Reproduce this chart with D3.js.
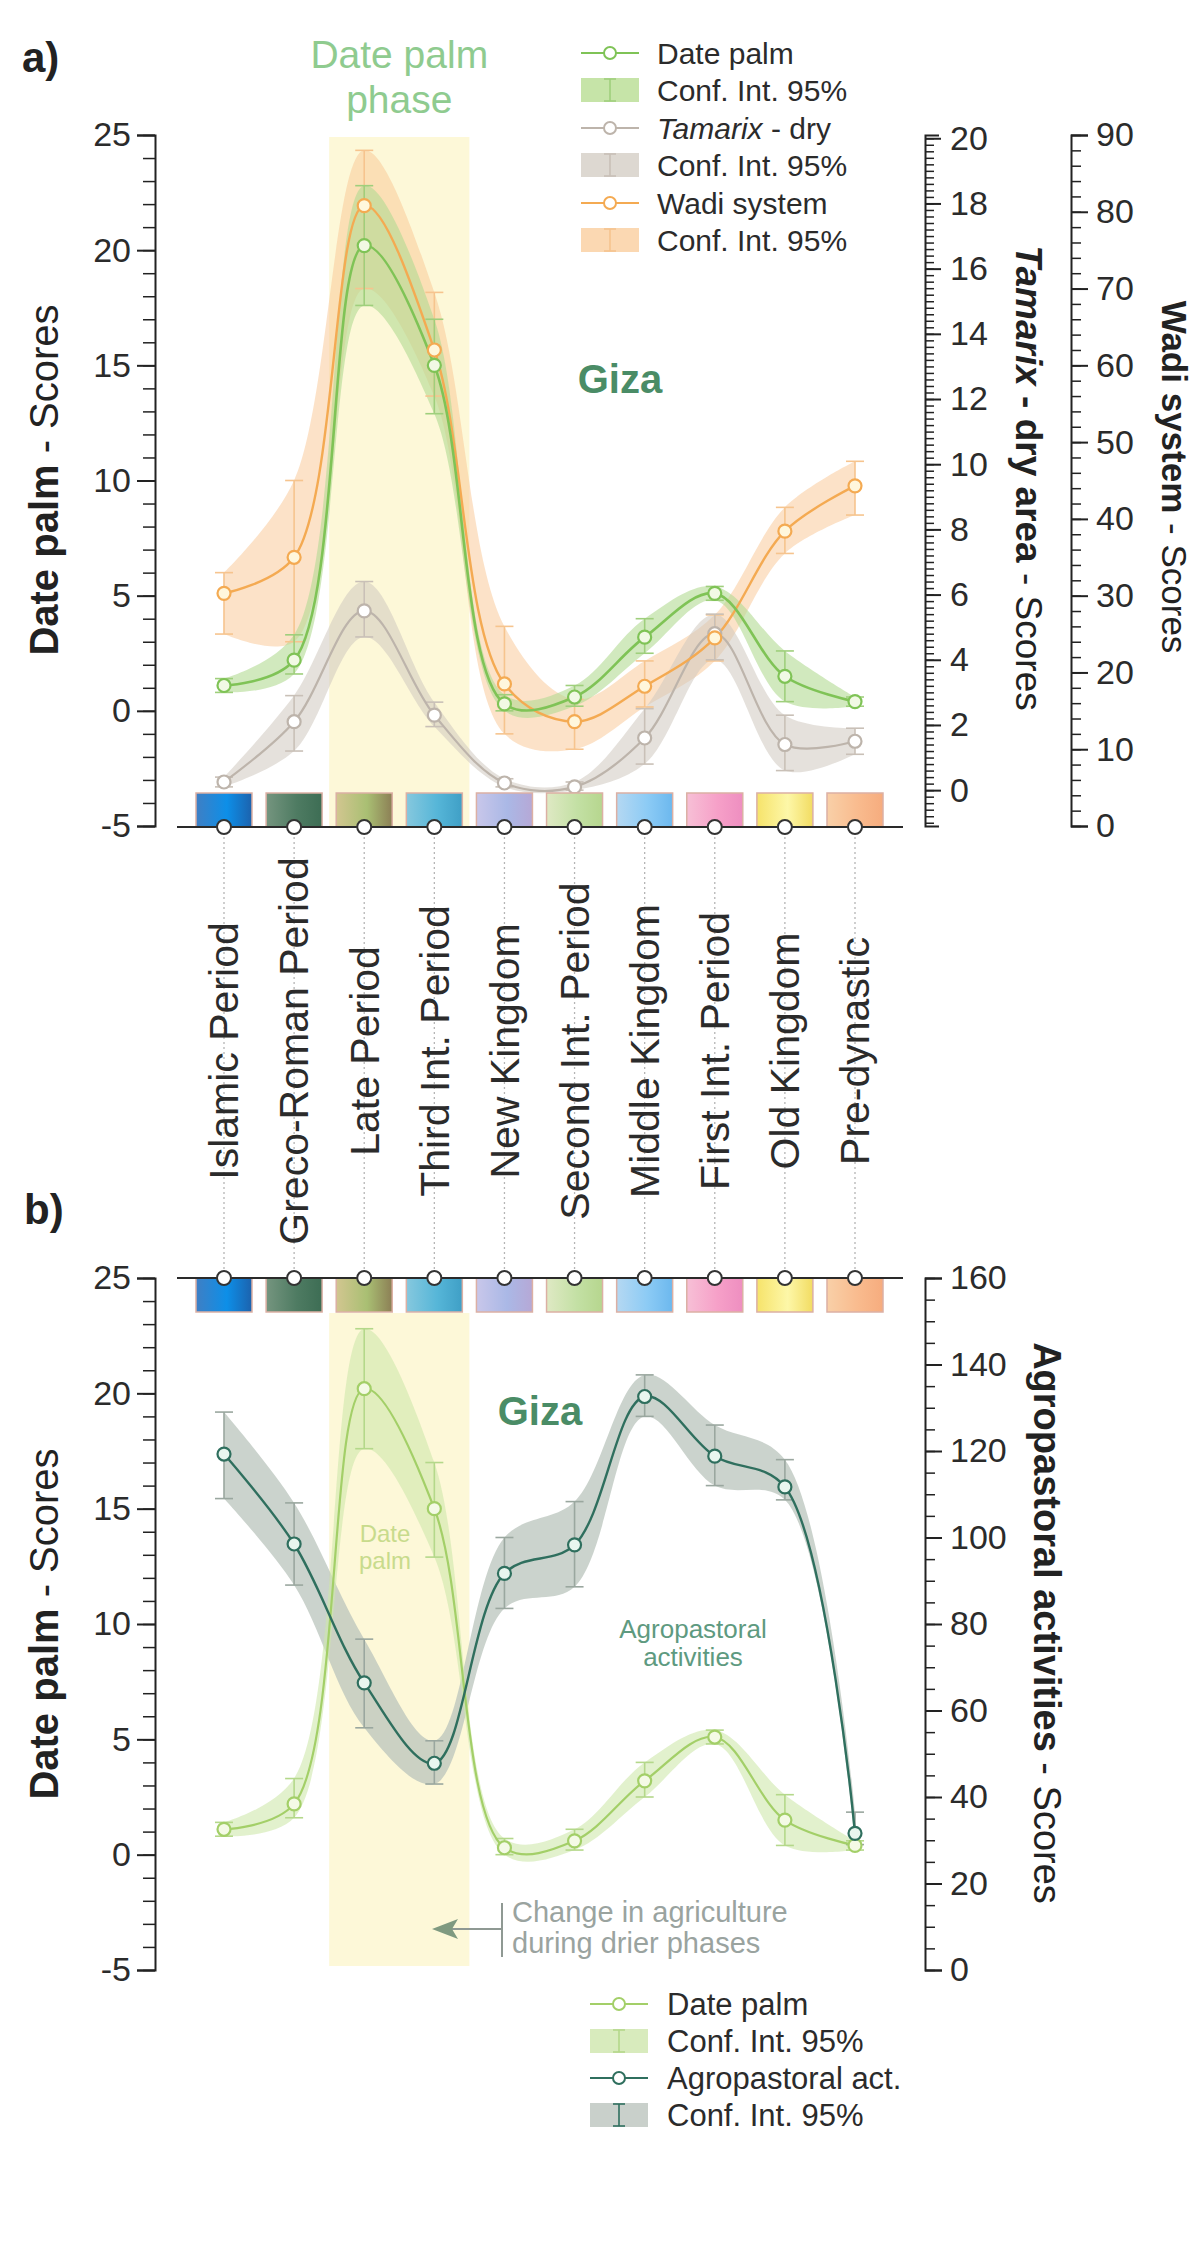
<!doctype html>
<html lang="en">
<head>
<meta charset="utf-8">
<title>Giza - date palm, Tamarix, wadi system, agropastoral activities</title>
<style>
  body { margin: 0; background: #fff; }
  svg { display: block; font-family: "Liberation Sans", Arial, sans-serif; }
</style>
</head>
<body>
<div id="chart"></div>
<script src="https://cdn.jsdelivr.net/npm/d3@7"></script>
<script>
// periods, youngest to oldest
var periods = ["Islamic Period", "Greco-Roman Period", "Late Period", "Third Int. Period",
  "New Kingdom", "Second Int. Period", "Middle Kingdom", "First Int. Period",
  "Old Kingdom", "Pre-dynastic"];

// date palm scores (left axis, both panels)
var datePalm   = [1.1, 2.2, 20.2, 15.0, 0.3, 0.6, 3.2, 5.1, 1.5, 0.4];
var datePalmLo = [0.8, 1.6, 17.6, 12.9, 0.0, 0.2, 2.5, 4.8, 0.4, 0.2];
var datePalmHi = [1.4, 3.3, 22.8, 17.0, 0.7, 1.1, 4.0, 5.4, 2.6, 0.6];

// Tamarix - dry area scores
var tamarix   = [0.25, 2.1, 5.5, 2.3, 0.22, 0.1, 1.6, 4.8, 1.4, 1.5];
var tamarixLo = [0.1, 1.2, 4.7, 1.95, 0.1, 0.0, 0.8, 4.0, 0.6, 1.1];
var tamarixHi = [0.4, 2.9, 6.4, 2.7, 0.35, 0.25, 2.5, 5.4, 2.3, 1.9];

// Wadi system scores
var wadi   = [30.3, 35.0, 80.8, 62.0, 18.5, 13.6, 18.2, 24.5, 38.4, 44.3];
var wadiLo = [25.0, 24.0, 70.0, 56.0, 12.0, 10.0, 15.5, 21.5, 35.5, 40.5];
var wadiHi = [33.0, 45.0, 88.0, 69.5, 26.0, 16.5, 21.5, 27.5, 41.5, 47.5];

// Agropastoral activities scores (panel b, right axis)
var agro   = [119.3, 98.5, 66.4, 47.8, 91.7, 98.3, 132.6, 118.8, 111.7, 31.6];
var agroLo = [109, 89, 56, 43, 83.6, 88.6, 128, 112, 108.7, 29];
var agroHi = [129, 108, 76.5, 53, 100, 108.3, 137.6, 126, 118, 36.5];

// tick values
var leftTicks = [-5, 0, 5, 10, 15, 20, 25];
var tamTicks = [0, 2, 4, 6, 8, 10, 12, 14, 16, 18, 20];
var wadiTicks = [0, 10, 20, 30, 40, 50, 60, 70, 80, 90];
var agroTicks = [0, 20, 40, 60, 80, 100, 120, 140, 160];

// colour of each period box (left, middle, right)
var boxColors = [
  ["#3f7fc4", "#0d8fe8", "#1c62ad"],
  ["#75957f", "#4e7b62", "#3d6d54"],
  ["#d2c690", "#a9bf73", "#8c7f55"],
  ["#86c8de", "#56b6d8", "#3f9fc6"],
  ["#c9c7ea", "#aab8e6", "#b6a8d6"],
  ["#dfe9c4", "#c3e0a4", "#b6d68e"],
  ["#b5d8f2", "#8ccbf5", "#6cb8ee"],
  ["#f7c0d6", "#f6a0c8", "#ee8ec0"],
  ["#f6e36a", "#fdf7a8", "#f2dc62"],
  ["#f9d0a8", "#f9bb8e", "#f6ac7e"]
];

(function() {
  var width = 1196, height = 2252;

  var svg = d3.select("#chart").append("svg")
      .attr("width", width)
      .attr("height", height);
  var defs = svg.append("defs");

  boxColors.forEach(function(c, i) {
    var g = defs.append("linearGradient").attr("id", "box" + i)
        .attr("x1", 0).attr("x2", 1).attr("y1", 0).attr("y2", 0);
    g.append("stop").attr("offset", "0%").attr("stop-color", c[0]);
    g.append("stop").attr("offset", "55%").attr("stop-color", c[1]);
    g.append("stop").attr("offset", "100%").attr("stop-color", c[2]);
  });

  var x = d3.scalePoint().domain(periods).range([224, 855]);

  // panel a scales
  var yA = d3.scaleLinear().domain([-5, 25]).range([826, 135]);
  var yTam = d3.scaleLinear().domain([-1.1, 20.1]).range([826, 135]);
  var yWadi = d3.scaleLinear().domain([0, 90]).range([826, 135]);
  // panel b scales
  var yB = d3.scaleLinear().domain([-5, 25]).range([1970, 1278]);
  var yAgro = d3.scaleLinear().domain([0, 160]).range([1970, 1278]);

  var axisA = 827, axisB = 1278;

  // date palm phase
  var phaseX0 = (x(periods[1]) + x(periods[2])) / 2;
  var phaseX1 = (x(periods[3]) + x(periods[4])) / 2;
  svg.append("rect").attr("x", phaseX0).attr("y", 137)
      .attr("width", phaseX1 - phaseX0).attr("height", axisA - 137)
      .attr("fill", "#fdf8d8");
  svg.append("rect").attr("x", phaseX0).attr("y", 1313)
      .attr("width", phaseX1 - phaseX0).attr("height", 1966 - 1313)
      .attr("fill", "#fdf8d8");

  svg.append("text").attr("x", (phaseX0 + phaseX1) / 2).attr("text-anchor", "middle")
      .attr("font-size", 39).attr("fill", "#8fcb8f")
      .selectAll("tspan").data(["Date palm", "phase"]).enter().append("tspan")
      .attr("x", (phaseX0 + phaseX1) / 2)
      .attr("y", function(d, i) { return 68 + i * 45; })
      .text(function(d) { return d; });

  // helpers
  function band(lo, hi, yScale, color, opacity) {
    var area = d3.area()
        .x(function(d, i) { return x(periods[i]); })
        .y0(function(d, i) { return yScale(lo[i]); })
        .y1(function(d, i) { return yScale(hi[i]); })
        .curve(d3.curveCatmullRom.alpha(0.5));
    svg.append("path").datum(lo).attr("d", area)
        .attr("fill", color).attr("fill-opacity", opacity);
  }

  function errorBars(lo, hi, yScale, color) {
    var g = svg.append("g").attr("stroke", color).attr("stroke-width", 1.6).attr("fill", "none");
    periods.forEach(function(p, i) {
      var cx = x(p), y0 = yScale(lo[i]), y1 = yScale(hi[i]);
      g.append("line").attr("x1", cx).attr("x2", cx).attr("y1", y0).attr("y2", y1);
      g.append("line").attr("x1", cx - 9).attr("x2", cx + 9).attr("y1", y0).attr("y2", y0);
      g.append("line").attr("x1", cx - 9).attr("x2", cx + 9).attr("y1", y1).attr("y2", y1);
    });
  }

  function series(values, yScale, color, fill, lw) {
    var line = d3.line()
        .x(function(d, i) { return x(periods[i]); })
        .y(function(d) { return yScale(d); })
        .curve(d3.curveCatmullRom.alpha(0.5));
    svg.append("path").datum(values).attr("d", line)
        .attr("fill", "none").attr("stroke", color).attr("stroke-width", lw);
    return function() {
      svg.append("g").selectAll("circle").data(values).enter().append("circle")
          .attr("cx", function(d, i) { return x(periods[i]); })
          .attr("cy", function(d) { return yScale(d); })
          .attr("r", 6.5)
          .attr("fill", fill).attr("stroke", color).attr("stroke-width", 2.2);
    };
  }

  // ----- panel a -----
  band(wadiLo, wadiHi, yWadi, "#f9c592", 0.5);
  band(tamarixLo, tamarixHi, yTam, "#cfc8bf", 0.55);
  band(datePalmLo, datePalmHi, yA, "#b3db92", 0.6);
  errorBars(wadiLo, wadiHi, yWadi, "#f6c48e");
  errorBars(tamarixLo, tamarixHi, yTam, "#c9c0b7");
  errorBars(datePalmLo, datePalmHi, yA, "#9fcf7c");
  var mTam = series(tamarix, yTam, "#bdb4ab", "#ffffff", 2.2);
  var mWadi = series(wadi, yWadi, "#f4aa52", "#fff7dc", 2.4);
  var mPalm = series(datePalm, yA, "#7fc356", "#f1f9e4", 2.6);
  mTam(); mWadi(); mPalm();

  // ----- panel b -----
  band(agroLo, agroHi, yAgro, "#b9c4bc", 0.75);
  band(datePalmLo, datePalmHi, yB, "#cfe7ac", 0.6);
  errorBars(agroLo, agroHi, yAgro, "#9aa79f");
  errorBars(datePalmLo, datePalmHi, yB, "#b4d88a");
  var mPalmB = series(datePalm, yB, "#a3cf68", "#f4fae6", 2.2);
  var mAgro = series(agro, yAgro, "#2f6f5e", "#e9f6ef", 2.4);
  mPalmB(); mAgro();

  // ----- period boxes, x axes and connectors -----
  var boxW = 56, boxH = 34;
  periods.forEach(function(p, i) {
    svg.append("line").attr("x1", x(p)).attr("x2", x(p))
        .attr("y1", axisA).attr("y2", axisB)
        .attr("stroke", "#b5b5b5").attr("stroke-width", 1.3).attr("stroke-dasharray", "2,3");
    [axisA - boxH, axisB].forEach(function(by) {
      svg.append("rect").attr("x", x(p) - boxW / 2).attr("y", by)
          .attr("width", boxW).attr("height", boxH)
          .attr("fill", "url(#box" + i + ")")
          .attr("stroke", "#dcb0a4").attr("stroke-width", 1.5);
    });
  });

  [axisA, axisB].forEach(function(ay) {
    svg.append("line").attr("x1", 177).attr("x2", 903).attr("y1", ay).attr("y2", ay)
        .attr("stroke", "#2a2a2a").attr("stroke-width", 2.2);
    svg.append("g").selectAll("circle").data(periods).enter().append("circle")
        .attr("cx", function(d) { return x(d); }).attr("cy", ay).attr("r", 7)
        .attr("fill", "#fff").attr("stroke", "#333").attr("stroke-width", 2);
  });

  svg.append("g").selectAll("text").data(periods).enter().append("text")
      .attr("transform", function(d) { return "translate(" + x(d) + ",1051) rotate(-90)"; })
      .attr("text-anchor", "middle").attr("dy", "0.35em")
      .attr("font-size", 41).attr("fill", "#2b2b2b")
      .text(function(d) { return d; });

  // ----- axes -----
  var plain = function(d) { return String(d); };

  function styleAxis(g, fs) {
    g.attr("font-size", fs).attr("font-family", "Liberation Sans, Arial, sans-serif");
    g.selectAll("path, line").attr("stroke", "#222").attr("stroke-width", 2);
    g.selectAll("text").attr("fill", "#2b2b2b");
  }

  function minorAxis(axisFn, scale, step, size, tx) {
    var d = scale.domain();
    var vals = d3.range(Math.ceil(d[0] / step) * step, d[1] + 1e-9, step);
    var g = svg.append("g").attr("transform", "translate(" + tx + ",0)")
        .call(axisFn(scale).tickValues(vals).tickSize(size).tickFormat(""));
    g.select(".domain").remove();
    g.selectAll("line").attr("stroke", "#222").attr("stroke-width", 1.5);
  }

  [yA, yB].forEach(function(ys) {
    minorAxis(d3.axisLeft, ys, 1, 12, 155);
    var g = svg.append("g").attr("transform", "translate(155,0)")
        .call(d3.axisLeft(ys).tickValues(leftTicks).tickFormat(plain)
          .tickSize(18).tickSizeOuter(18).tickPadding(6));
    styleAxis(g, 34);
  });

  minorAxis(d3.axisRight, yTam, 0.2, 9, 925);
  var gTam = svg.append("g").attr("transform", "translate(925,0)")
      .call(d3.axisRight(yTam).tickValues(tamTicks).tickFormat(plain)
        .tickSize(16).tickSizeOuter(14).tickPadding(9));
  styleAxis(gTam, 34);

  minorAxis(d3.axisRight, yWadi, 2, 10, 1071);
  var gWadi = svg.append("g").attr("transform", "translate(1071,0)")
      .call(d3.axisRight(yWadi).tickValues(wadiTicks).tickFormat(plain)
        .tickSize(17).tickSizeOuter(17).tickPadding(8));
  styleAxis(gWadi, 34);

  minorAxis(d3.axisRight, yAgro, 5, 10, 925);
  var gAgro = svg.append("g").attr("transform", "translate(925,0)")
      .call(d3.axisRight(yAgro).tickValues(agroTicks).tickFormat(plain)
        .tickSize(17).tickSizeOuter(17).tickPadding(8));
  styleAxis(gAgro, 34);

  // axis titles
  function title(tx, ty, rot, parts, fs) {
    var t = svg.append("text")
        .attr("transform", "translate(" + tx + "," + ty + ") rotate(" + rot + ")")
        .attr("text-anchor", "middle").attr("font-size", fs).attr("fill", "#222");
    parts.forEach(function(p) {
      t.append("tspan").attr("font-weight", p[1] ? "bold" : "normal")
          .attr("font-style", p[2] ? "italic" : "normal").text(p[0]);
    });
  }
  title(58, 480, -90, [["Date palm", 1], [" - Scores", 0]], 40);
  title(58, 1624, -90, [["Date palm", 1], [" - Scores", 0]], 40);
  title(1016, 478, 90, [["Tamarix", 1, 1], [" - dry area", 1], [" - Scores", 0]], 37);
  title(1162, 477, 90, [["Wadi system", 1], [" - Scores", 0]], 35);
  title(1034, 1623, 90, [["Agropastoral activities", 1], [" - Scores", 0]], 38);

  // panel letters and site names
  svg.append("text").attr("x", 22).attr("y", 72).attr("font-size", 42)
      .attr("font-weight", "bold").attr("fill", "#222").text("a)");
  svg.append("text").attr("x", 24).attr("y", 1224).attr("font-size", 42)
      .attr("font-weight", "bold").attr("fill", "#222").text("b)");
  svg.append("text").attr("x", 620).attr("y", 393).attr("text-anchor", "middle")
      .attr("font-size", 40).attr("font-weight", "bold").attr("fill", "#4a8c66").text("Giza");
  svg.append("text").attr("x", 540).attr("y", 1425).attr("text-anchor", "middle")
      .attr("font-size", 40).attr("font-weight", "bold").attr("fill", "#4a8c66").text("Giza");

  // panel b annotations
  function lines(tx, ty, rows, lh, fs, color, anchor) {
    svg.append("text").attr("font-size", fs).attr("fill", color)
        .attr("text-anchor", anchor)
        .selectAll("tspan").data(rows).enter().append("tspan")
        .attr("x", tx).attr("y", function(d, i) { return ty + i * lh; })
        .text(function(d) { return d; });
  }
  lines(385, 1542, ["Date", "palm"], 27, 24, "#c8db8c", "middle");
  lines(693, 1638, ["Agropastoral", "activities"], 28, 26, "#5e9a80", "middle");
  lines(512, 1922, ["Change in agriculture", "during drier phases"], 31, 29, "#9aa39f", "start");
  svg.append("line").attr("x1", 502).attr("x2", 502).attr("y1", 1903).attr("y2", 1957)
      .attr("stroke", "#8f9993").attr("stroke-width", 2);
  svg.append("line").attr("x1", 450).attr("x2", 502).attr("y1", 1929).attr("y2", 1929)
      .attr("stroke", "#8f9993").attr("stroke-width", 2);
  svg.append("path").attr("d", "M432,1929L458,1919L452,1929L458,1939Z").attr("fill", "#7f9a80");

  // legends
  function legend(lx, tx, rows, fs) {
    rows.forEach(function(r) {
      var cy = r.y;
      if (r.type === "line") {
        svg.append("line").attr("x1", lx).attr("x2", lx + 58).attr("y1", cy).attr("y2", cy)
            .attr("stroke", r.color).attr("stroke-width", 2);
        svg.append("circle").attr("cx", lx + 29).attr("cy", cy).attr("r", 6)
            .attr("fill", "#fff").attr("stroke", r.color).attr("stroke-width", 2);
      } else {
        svg.append("rect").attr("x", lx).attr("y", cy - 12).attr("width", 58).attr("height", 24)
            .attr("fill", r.color);
        var bar = svg.append("g").attr("stroke", r.bar).attr("stroke-width", 1.6);
        bar.append("line").attr("x1", lx + 29).attr("x2", lx + 29).attr("y1", cy - 11).attr("y2", cy + 11);
        bar.append("line").attr("x1", lx + 23).attr("x2", lx + 35).attr("y1", cy - 11).attr("y2", cy - 11);
        bar.append("line").attr("x1", lx + 23).attr("x2", lx + 35).attr("y1", cy + 11).attr("y2", cy + 11);
      }
      var t = svg.append("text").attr("x", tx).attr("y", cy).attr("dy", "0.35em")
          .attr("font-size", fs).attr("fill", "#2b2b2b");
      r.label.forEach(function(p) {
        t.append("tspan").attr("font-style", p[1] ? "italic" : "normal").text(p[0]);
      });
    });
  }
  legend(581, 657, [
    { y: 53, type: "line", color: "#7fc356", label: [["Date palm"]] },
    { y: 90, type: "rect", color: "#c6e4a8", bar: "#9fcf7c", label: [["Conf. Int. 95%"]] },
    { y: 128, type: "line", color: "#bdb4ab", label: [["Tamarix", 1], [" - dry"]] },
    { y: 165, type: "rect", color: "#ddd8d1", bar: "#c9c0b7", label: [["Conf. Int. 95%"]] },
    { y: 203, type: "line", color: "#f4aa52", label: [["Wadi system"]] },
    { y: 240, type: "rect", color: "#fbd8b2", bar: "#f6c48e", label: [["Conf. Int. 95%"]] }
  ], 30);
  legend(590, 667, [
    { y: 2004, type: "line", color: "#a3cf68", label: [["Date palm"]] },
    { y: 2041, type: "rect", color: "#d8ebbd", bar: "#b4d88a", label: [["Conf. Int. 95%"]] },
    { y: 2078, type: "line", color: "#2f6f5e", label: [["Agropastoral act."]] },
    { y: 2115, type: "rect", color: "#c9d0cb", bar: "#2f6f5e", label: [["Conf. Int. 95%"]] }
  ], 31);
})();
</script>
</body>
</html>
